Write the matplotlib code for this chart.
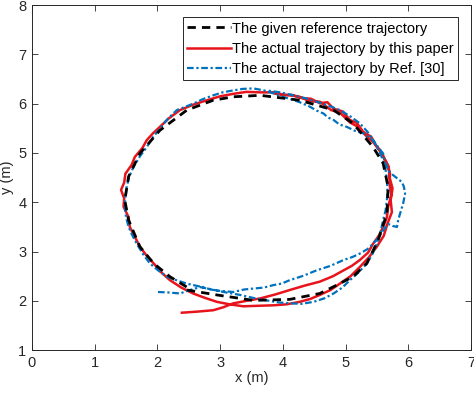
import matplotlib
matplotlib.use("Agg")
import matplotlib.pyplot as plt

# given reference trajectory (black dashed)
ref_x = [2.47, 2.95, 3.53, 4.11, 4.59, 4.86, 5.12, 5.34, 5.52, 5.66, 5.68, 5.60,
         5.44, 5.12, 4.81, 4.27, 3.64, 3.21, 2.89, 2.47, 2.04, 1.72, 1.54, 1.48,
         1.54, 1.72, 1.94, 2.20, 2.47]
ref_y = [2.22, 2.12, 2.01, 2.03, 2.15, 2.32, 2.49, 2.76, 3.23, 3.77, 4.31, 4.79,
         5.12, 5.60, 5.87, 6.07, 6.17, 6.14, 6.07, 5.87, 5.46, 4.99, 4.52, 4.04,
         3.64, 3.10, 2.76, 2.49, 2.28]

# actual trajectory by this paper (red)
red_x = [2.39, 2.62, 2.89, 3.05, 3.21, 3.42, 3.64, 3.88, 4.11, 4.35, 4.59, 4.80,
         4.97, 5.10, 5.23, 5.36, 5.44, 5.53, 5.60, 5.66, 5.68, 5.73, 5.70, 5.71,
         5.66, 5.59, 5.50, 5.41, 5.28, 5.18, 5.07, 4.96, 4.81, 4.71, 4.59, 4.45,
         4.27, 4.14, 4.01, 3.82, 3.64, 3.42, 3.21, 3.00, 2.79, 2.57, 2.36, 2.18,
         2.04, 1.93, 1.83, 1.76, 1.64, 1.59, 1.49, 1.47, 1.42, 1.47, 1.46, 1.54,
         1.56, 1.64, 1.72, 1.82, 1.94, 2.06, 2.20, 2.38, 2.57, 2.76, 2.95, 3.15,
         3.37, 3.60, 3.85, 4.06, 4.27, 4.44, 4.59, 4.76, 4.91, 5.08, 5.23, 5.37,
         5.50, 5.61, 5.67, 5.74, 5.72, 5.75, 5.70, 5.69, 5.61, 5.55, 5.44, 5.34,
         5.20, 5.07, 4.91, 4.77, 4.59, 4.43, 4.25, 4.05, 3.85]
red_y = [1.76, 1.78, 1.81, 1.87, 1.95, 2.00, 2.05, 2.13, 2.22, 2.31, 2.39, 2.50,
         2.62, 2.71, 2.83, 2.98, 3.16, 3.32, 3.50, 3.70, 3.91, 4.15, 4.38, 4.58,
         4.79, 4.97, 5.12, 5.33, 5.43, 5.61, 5.67, 5.84, 5.90, 6.03, 6.01, 6.10,
         6.12, 6.18, 6.17, 6.23, 6.23, 6.24, 6.20, 6.15, 6.07, 5.98, 5.87, 5.70,
         5.53, 5.40, 5.26, 5.10, 4.92, 4.76, 4.58, 4.40, 4.25, 4.08, 3.91, 3.70,
         3.50, 3.30, 3.10, 2.93, 2.76, 2.58, 2.42, 2.27, 2.15, 2.06, 1.98, 1.93,
         1.89, 1.90, 1.91, 1.93, 1.98, 2.04, 2.12, 2.22, 2.35, 2.50, 2.69, 2.88,
         3.10, 3.32, 3.57, 3.80, 4.04, 4.28, 4.52, 4.72, 4.90, 5.06, 5.22, 5.33,
         5.53, 5.62, 5.82, 5.87, 6.04, 6.05, 6.15, 6.18, 6.22]

# actual trajectory by Ref. [30] (blue dash-dot)
blue_x = [2.01, 2.18, 2.36, 2.52, 2.68, 2.95, 3.21, 3.38, 3.53, 3.70, 3.85, 3.98,
          4.11, 4.33, 4.54, 4.76, 4.97, 5.11, 5.23, 5.35, 5.44, 5.53, 5.60, 5.68,
          5.75, 5.82, 5.84, 5.87, 5.92, 5.95, 5.93, 5.90, 5.82, 5.76, 5.70, 5.66,
          5.62, 5.60, 5.52, 5.44, 5.28, 5.15, 5.02, 4.90, 4.81, 4.72, 4.65, 4.54,
          4.43, 4.27, 4.11, 3.97, 3.85, 3.70, 3.53, 3.36, 3.21, 3.04, 2.89, 2.72,
          2.57, 2.43, 2.31, 2.17, 2.04, 1.93, 1.83, 1.72, 1.62, 1.55, 1.51, 1.49,
          1.48, 1.50, 1.54, 1.60, 1.67, 1.77, 1.88, 2.01, 2.15, 2.30, 2.47, 2.68,
          2.89, 3.10, 3.32, 3.53, 3.74, 3.93, 4.11, 4.30, 4.49, 4.66, 4.81, 4.95,
          5.07, 5.21, 5.34, 5.43, 5.50, 5.56, 5.60, 5.64, 5.66, 5.67, 5.66, 5.64,
          5.60, 5.53, 5.44, 5.35, 5.23, 5.08, 4.91, 4.73, 4.54, 4.36, 4.17, 3.96,
          3.74]
blue_y = [2.18, 2.17, 2.15, 2.22, 2.28, 2.21, 2.18, 2.23, 2.25, 2.27, 2.32, 2.35,
          2.42, 2.51, 2.62, 2.71, 2.83, 2.89, 2.96, 3.05, 3.16, 3.29, 3.43, 3.56,
          3.52, 3.50, 3.64, 3.77, 3.98, 4.18, 4.32, 4.41, 4.49, 4.55, 4.62, 4.72,
          4.86, 4.99, 5.12, 5.26, 5.40, 5.45, 5.53, 5.58, 5.67, 5.72, 5.80, 5.86,
          5.94, 6.03, 6.10, 6.15, 6.21, 6.27, 6.31, 6.30, 6.27, 6.23, 6.17, 6.09,
          6.00, 5.93, 5.87, 5.70, 5.50, 5.32, 5.12, 4.93, 4.72, 4.52, 4.31, 4.11,
          3.91, 3.70, 3.50, 3.33, 3.16, 2.95, 2.76, 2.62, 2.49, 2.42, 2.35, 2.29,
          2.22, 2.17, 2.12, 2.06, 2.01, 1.97, 1.95, 1.94, 1.98, 2.05, 2.15, 2.27,
          2.42, 2.58, 2.76, 2.95, 3.16, 3.40, 3.64, 3.84, 4.04, 4.25, 4.45, 4.65,
          4.85, 5.06, 5.26, 5.43, 5.60, 5.74, 5.87, 5.96, 6.04, 6.11, 6.17, 6.23,
          6.27]

labels = ["The given reference trajectory",
          "The actual trajectory by this paper",
          "The actual trajectory by Ref. [30]"]

plt.rcParams['font.family'] = ['Liberation Sans', 'DejaVu Sans']
grey = "#262626"

fig = plt.figure(figsize=(4.74, 3.93), dpi=100)
ax = fig.add_axes([0.0675, 0.109, 0.926, 0.878])

ax.plot(ref_x, ref_y, color="black", lw=2.0, ls=(0, (3, 2.2)), label=labels[0], zorder=3)
ax.plot(red_x, red_y, color="#e8141c", lw=1.8, label=labels[1], zorder=2)
ax.plot(blue_x, blue_y, color="#0072bd", lw=1.6, ls=(0, (3, 1.2, 1, 1.2)),
        label=labels[2], zorder=2)

ax.set_xlim(0, 7)
ax.set_ylim(1, 8)
ax.set_xticks(range(0, 8))
ax.set_yticks(range(1, 9))
ax.set_xlabel("x (m)", fontsize=10.5, color=grey, labelpad=1)
ax.set_ylabel("y (m)", fontsize=10.5, color=grey, labelpad=3)
ax.tick_params(direction="in", top=True, right=True, labelsize=10.5,
               colors=grey, length=4, width=0.6, pad=4)
for s in ax.spines.values():
    s.set_color(grey)
    s.set_linewidth(0.7)

leg = ax.legend(loc="upper right", bbox_to_anchor=(0.971, 0.965), fontsize=10.5,
                handlelength=3.0, handletextpad=0.1, borderpad=0.3,
                labelspacing=0.42, fancybox=False, framealpha=1,
                edgecolor=grey, borderaxespad=0)
leg.get_frame().set_linewidth(0.7)
for t in leg.get_texts():
    t.set_color("black")

fig.savefig("out.png", dpi=100)
